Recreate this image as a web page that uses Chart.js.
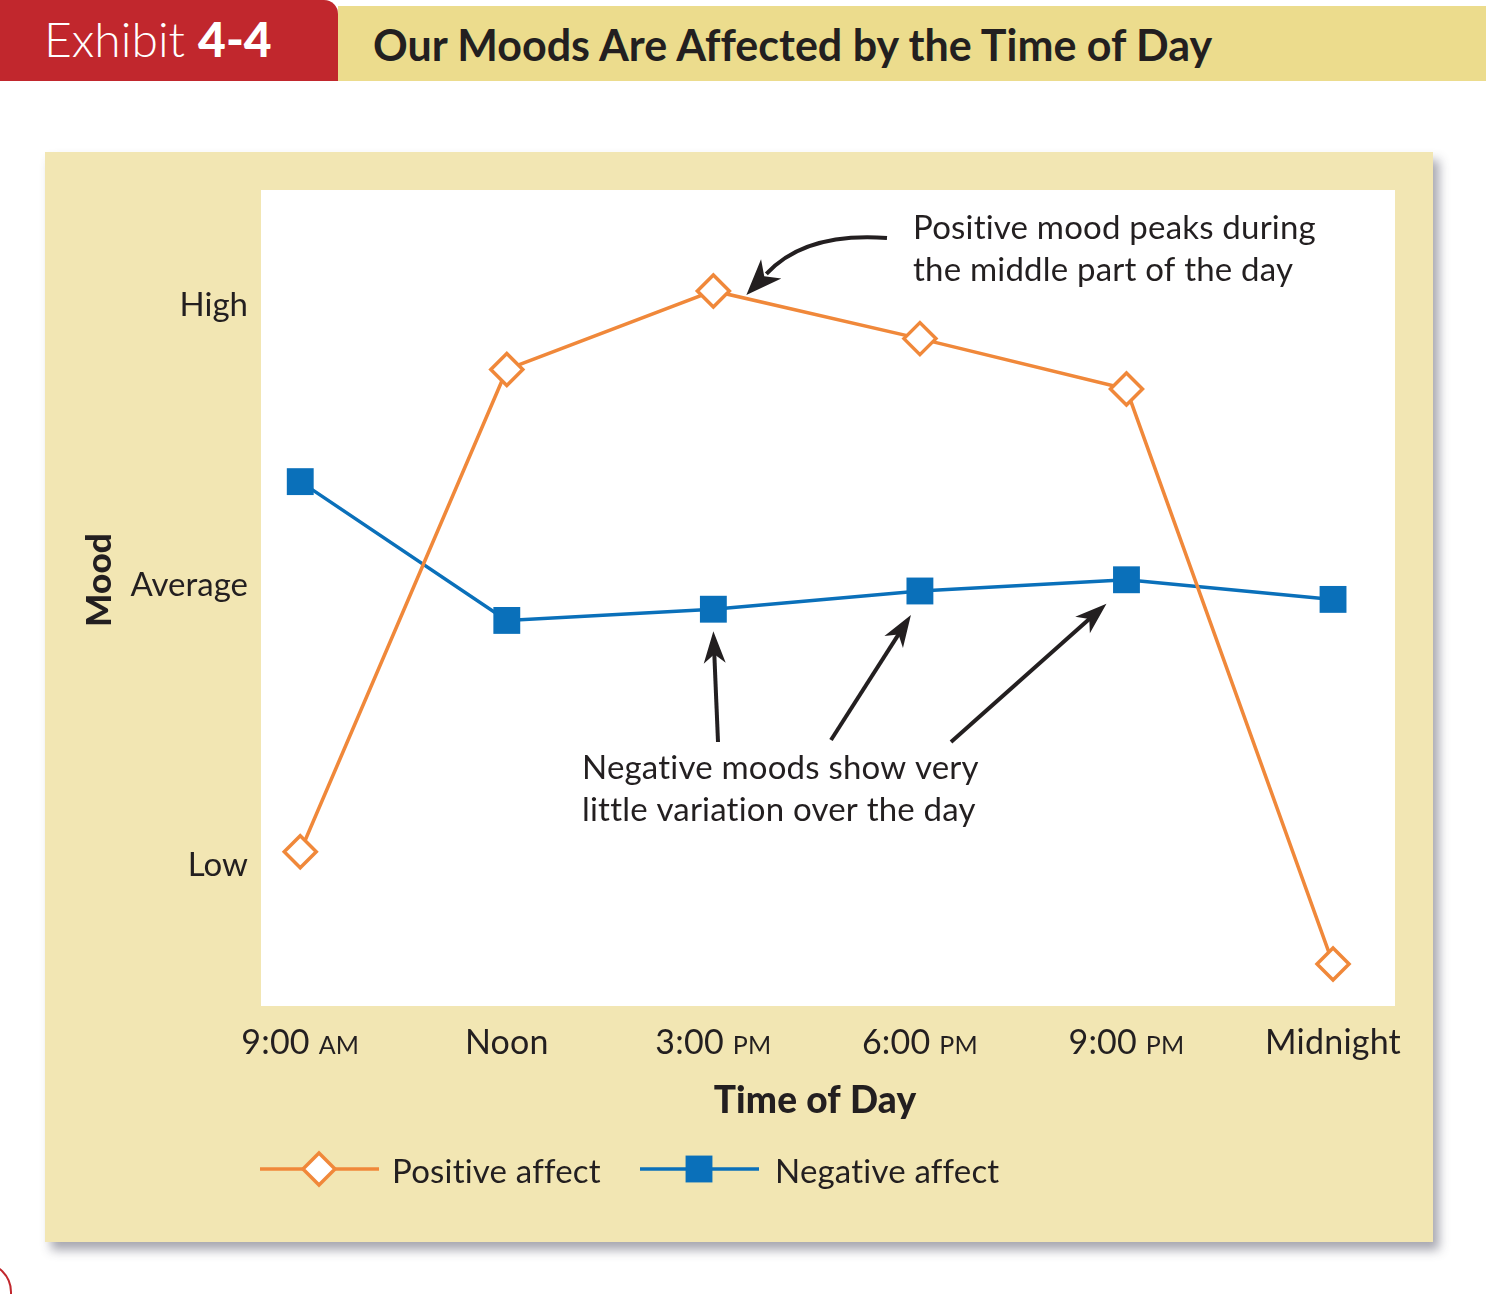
<!DOCTYPE html>
<html>
<head>
<meta charset="utf-8">
<script src="https://cdn.jsdelivr.net/npm/chart.js@4.4.1/dist/chart.umd.min.js"></script>
<style>
  body { margin: 0; width: 1486px; height: 1294px; background: #fff; position: relative; overflow: hidden; font-family: Lato, sans-serif; font-variant-ligatures: none; }
  #tab { position: absolute; left: 0; top: 0; width: 338px; height: 81px; background: #c1272d; border-top-right-radius: 14px; color: #fff; font-size: 48px; line-height: 78px; padding-left: 44px; box-sizing: border-box; font-weight: 300; }
  #tab b { font-weight: 900; }
  #bar { position: absolute; left: 338px; top: 6px; width: 1148px; height: 75px; background: #ecdc8d; color: #231f20; font-size: 43px; font-weight: 700; line-height: 78px; padding-left: 35px; box-sizing: border-box; }
  #panel { position: absolute; left: 45px; top: 152px; width: 1388px; height: 1090px; background: #f2e6b3; box-shadow: 6px 8px 10px rgba(60, 60, 80, 0.45); }
  #corner { position: absolute; left: -50px; top: 1262px; width: 58px; height: 80px; border: 2px solid #c1272d; border-radius: 30px; }
</style>
</head>
<body>
<div id="tab">Exhibit <b>4-4</b></div>
<div id="bar">Our Moods Are Affected by the Time of Day</div>
<div id="corner"></div>
<div id="panel"><canvas id="moodChart" width="1388" height="1090"></canvas></div>

<script>
"use strict";

// Kategorier och värden
const timeLabels = ['9:00 AM', 'Noon', '3:00 PM', '6:00 PM', '9:00 PM', 'Midnight'];
const moodLabels = ['Low', 'Average', 'High'];
const moodValues = [1, 2, 3];
const positiveAffect = [1.05, 2.77, 3.05, 2.88, 2.70, 0.65];
const negativeAffect = [2.37, 1.875, 1.915, 1.98, 2.02, 1.95];

const FONT = 'Lato, sans-serif';
const TEXT = '#231f20';
const ORANGE = '#f0883a';
const BLUE = '#0a70ba';

function toPoints(values) {
    return values.map((v, i) => ({ x: i, y: v }));
}

// Fylld pilspets med inskuren bakkant
function arrowHead(ctx, fromX, fromY, toX, toY, len, half) {
    const a = Math.atan2(toY - fromY, toX - fromX);
    const c = Math.cos(a), s = Math.sin(a);
    ctx.beginPath();
    ctx.moveTo(toX, toY);
    ctx.lineTo(toX - len * c + half * s, toY - len * s - half * c);
    ctx.lineTo(toX - len * c * 0.72, toY - len * s * 0.72);
    ctx.lineTo(toX - len * c - half * s, toY - len * s + half * c);
    ctx.closePath();
    ctx.fill();
}

function straightArrow(ctx, x1, y1, x2, y2) {
    const a = Math.atan2(y2 - y1, x2 - x1);
    ctx.beginPath();
    ctx.moveTo(x1, y1);
    ctx.lineTo(x2 - 20 * Math.cos(a), y2 - 20 * Math.sin(a));
    ctx.stroke();
    arrowHead(ctx, x1, y1, x2, y2, 32, 11);
}

function drawMarker(ctx, ds, x, y) {
    const r = ds.pointRadius;
    ctx.fillStyle = ds.pointBackgroundColor;
    ctx.strokeStyle = ds.pointBorderColor;
    ctx.lineWidth = ds.pointBorderWidth;
    ctx.beginPath();
    if (ds.pointStyle === 'rectRot') {
        ctx.moveTo(x - r, y);
        ctx.lineTo(x, y - r);
        ctx.lineTo(x + r, y);
        ctx.lineTo(x, y + r);
        ctx.closePath();
    } else {
        const s = Math.SQRT1_2 * r;
        ctx.rect(x - s, y - s, 2 * s, 2 * s);
    }
    ctx.fill();
    if (ds.pointBorderWidth > 0) ctx.stroke();
}

const extras = {
    id: 'extras',
    afterDraw(chart) {
        const ctx = chart.ctx;
        const xs = chart.scales.x;
        const ys = chart.scales.y;
        const area = chart.chartArea;
        ctx.save();
        ctx.letterSpacing = '0.2px';
        ctx.fillStyle = TEXT;

        // x-axelns etiketter med små versaler för AM/PM
        timeLabels.forEach((label, i) => {
            const m = label.match(/^(.*\s)(AM|PM)$/);
            const main = m ? m[1] : label;
            const suffix = m ? m[2] : '';
            ctx.font = '34px ' + FONT;
            const w1 = ctx.measureText(main).width;
            ctx.font = '25px ' + FONT;
            const w2 = ctx.measureText(suffix).width;
            const x = xs.getPixelForValue(i) - (w1 + w2) / 2;
            const base = area.bottom + 48;
            ctx.textBaseline = 'alphabetic';
            ctx.textAlign = 'left';
            ctx.font = '34px ' + FONT;
            ctx.fillText(main, x, base);
            ctx.font = '25px ' + FONT;
            ctx.fillText(suffix, x + w1, base);
        });

        // axeltitlar
        ctx.textBaseline = 'middle';
        ctx.textAlign = 'center';
        ctx.font = '900 37px ' + FONT;
        ctx.fillText('Time of Day', (area.left + area.right) / 2 - 13, area.bottom + 95);
        ctx.save();
        ctx.translate(55, 428);
        ctx.rotate(-Math.PI / 2);
        ctx.font = '900 35px ' + FONT;
        ctx.fillText('Mood', 0, 0);
        ctx.restore();

        // förklaring
        const ly = area.bottom + 163;
        const items = [
            { ds: chart.data.datasets[0], x: 215, tx: 347 },
            { ds: chart.data.datasets[1], x: 595, tx: 730 }
        ];
        items.forEach(it => {
            const ds = it.ds;
            ctx.strokeStyle = ds.borderColor;
            ctx.lineWidth = ds.borderWidth;
            ctx.beginPath();
            ctx.moveTo(it.x, ly);
            ctx.lineTo(it.x + 119, ly);
            ctx.stroke();
            drawMarker(ctx, ds, it.x + 59, ly);
            ctx.fillStyle = TEXT;
            ctx.textAlign = 'left';
            ctx.font = '33px ' + FONT;
            ctx.fillText(ds.label, it.tx, ly + 3);
        });

        // kommentarer
        ctx.font = '33px ' + FONT;
        ctx.textAlign = 'left';
        ctx.fillText('Positive mood peaks during', 868, 76);
        ctx.fillText('the middle part of the day', 868, 118);
        ctx.fillText('Negative moods show very', 537, 616);
        ctx.fillText('little variation over the day', 537, 658);

        ctx.strokeStyle = '#231f20';
        ctx.fillStyle = '#231f20';
        ctx.lineWidth = 4;

        // böjd pil mot toppen
        const tipX = xs.getPixelForValue(2) + 33;
        const tipY = ys.getPixelForValue(positiveAffect[2]) + 4;
        const endX = tipX + 20, endY = tipY - 21;
        ctx.beginPath();
        ctx.moveTo(842, 86);
        ctx.quadraticCurveTo(760, 80, endX, endY);
        ctx.stroke();
        arrowHead(ctx, endX + 10, endY - 10.5, tipX, tipY, 36, 14);

        // raka pilar mot negativa punkter
        const tails = [[673, 590], [786, 588], [906, 590]];
        const offs = [[0, 22], [-9, 24], [-20, 24]];
        [2, 3, 4].forEach((idx, k) => {
            const tx = xs.getPixelForValue(idx) + offs[k][0];
            const ty = ys.getPixelForValue(negativeAffect[idx]) + offs[k][1];
            straightArrow(ctx, tails[k][0], tails[k][1], tx, ty);
        });
        ctx.restore();
    }
};

const chart = new Chart(document.getElementById('moodChart'), {
    type: 'line',
    data: {
        datasets: [{
            label: 'Positive affect',
            data: toPoints(positiveAffect),
            borderColor: ORANGE,
            borderWidth: 3.5,
            pointStyle: 'rectRot',
            pointRadius: 16,
            pointBorderWidth: 3.5,
            pointBorderColor: ORANGE,
            pointBackgroundColor: '#ffffff',
            tension: 0
        }, {
            label: 'Negative affect',
            data: toPoints(negativeAffect),
            borderColor: BLUE,
            borderWidth: 3.5,
            pointStyle: 'rect',
            pointRadius: 19,
            pointBorderWidth: 0,
            pointBorderColor: BLUE,
            pointBackgroundColor: BLUE,
            tension: 0
        }]
    },
    options: {
        responsive: false,
        animation: false,
        devicePixelRatio: 1,
        layout: { padding: { top: 38, right: 38, left: 0, bottom: 0 } },
        plugins: { legend: { display: false }, tooltip: { enabled: false } },
        scales: {
            x: {
                type: 'linear',
                min: -0.19,
                max: 5.3,
                grid: { display: false, drawTicks: false },
                border: { display: false },
                ticks: { display: false },
                afterFit: s => { s.height = 236; }
            },
            y: {
                min: 0.5,
                max: 3.41,
                grid: { display: false, drawTicks: false },
                border: { display: false },
                afterBuildTicks: s => { s.ticks = moodValues.map(v => ({ value: v })); },
                ticks: {
                    callback: v => moodLabels[moodValues.indexOf(v)],
                    font: { size: 33, family: FONT },
                    color: TEXT,
                    padding: 13
                },
                afterFit: s => { s.width = 216; }
            }
        }
    },
    plugins: [{
        id: 'whiteArea',
        beforeDatasetsDraw(c) {
            const a = c.chartArea;
            c.ctx.save();
            c.ctx.fillStyle = '#ffffff';
            c.ctx.fillRect(a.left, a.top, a.right - a.left, a.bottom - a.top);
            c.ctx.restore();
        }
    }, extras]
});
</script>
</body>
</html>
